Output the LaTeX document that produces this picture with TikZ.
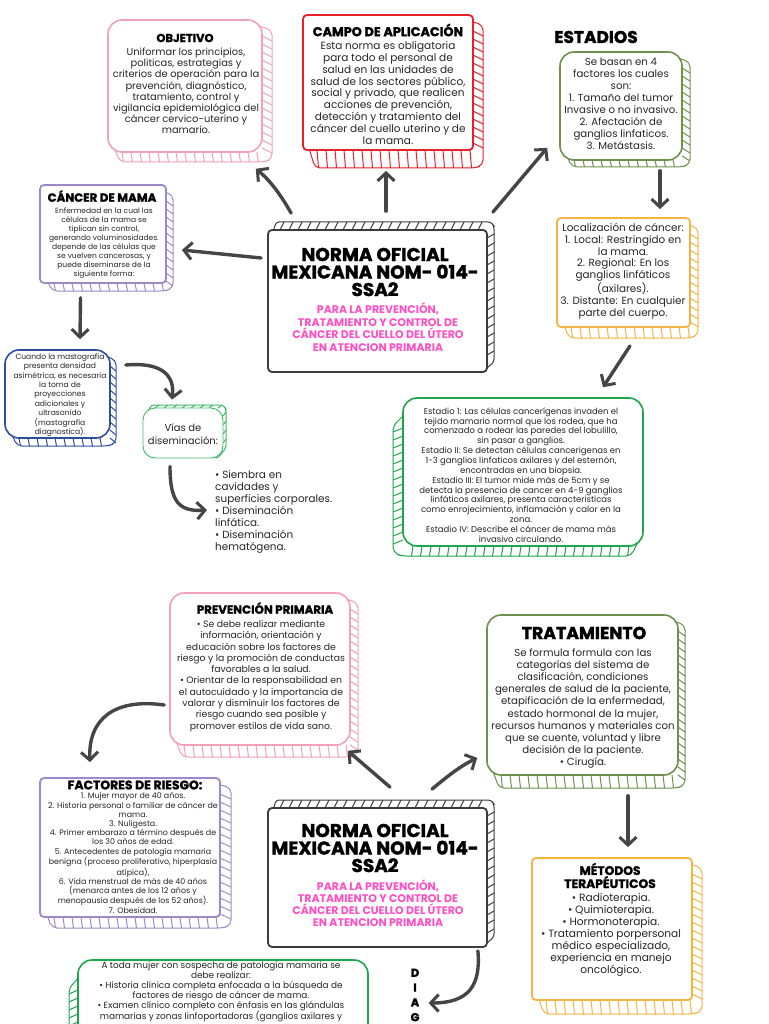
\documentclass[tikz,border=0pt]{standalone}
\usepackage{fontspec}
\setmainfont{Poppins}
\newfontfamily\heavy{Poppins}[BoldFeatures={FakeBold=1.6}]
\usetikzlibrary{arrows.meta,calc}
\definecolor{cpink}{HTML}{F3A1B8}
\definecolor{cred}{HTML}{E82129}
\definecolor{colive}{HTML}{6F8F4C}
\definecolor{cpurple}{HTML}{9D89C9}
\definecolor{corange}{HTML}{F5B443}
\definecolor{cgreen}{HTML}{1FA54B}
\definecolor{cblue}{HTML}{2D4E9E}
\definecolor{cvgreen}{HTML}{40BA66}
\definecolor{hotpink}{HTML}{FF4EC2}
\definecolor{cdark}{HTML}{3C3C3C}
\definecolor{carrow}{HTML}{454545}
\tikzset{
  sbox/.style={fill=white, line width=1.6pt, rounded corners=14pt, inner sep=0pt},
  nbox/.style={fill=white, line width=1.8pt, rounded corners=4pt, inner sep=0pt},
  vbox/.style={fill=white, line width=0.9pt, rounded corners=12pt, inner sep=0pt},
  txt/.style={align=center, inner sep=0pt, text=black!85},
  ttlst/.style={align=center, inner sep=0pt, font=\heavy\bfseries},
  arr/.style={draw=carrow, line width=3.4pt, line cap=round,
    -{Straight Barb[length=8pt,width=17pt,line width=3pt]}},
}
% box with extrusion bottom-right: [style] name,color,x1,y1,x2,y2,dr,db
\newcommand{\boxBR}[9][sbox]{%
  \begin{scope}[draw=#3, line width=1pt]
   \filldraw[fill=white, rounded corners=5pt] (#6-16,#5+2) -- (#6+#8,#5+10) -- (#6+#8,#7+#9-3) -- (#6+#8-8,#7+#9) -- (#4+12,#7+#9) -- (#4+3,#7-12) -- cycle;
   \pgfmathsetmacro\xa{#4+14}\pgfmathsetmacro\xb{#4+23}\pgfmathsetmacro\xe{#6-2}
   \foreach \u in {\xa,\xb,...,\xe} \draw (\u,#7) -- (\u+1.5,#7+#9);
   \pgfmathsetmacro\ya{#5+16}\pgfmathsetmacro\yb{#5+24}\pgfmathsetmacro\ye{#7}
   \foreach \v in {\ya,\yb,...,\ye} \draw (#6,\v) -- (#6+#8,\v+5);
  \end{scope}
  \node[#1, draw=#3, minimum width={(#6-#4)*1pt}, minimum height={(#7-#5)*1pt}] (#2) at ({(#4+#6)/2},{(#5+#7)/2}) {};
}
% extrusion top-right
\newcommand{\boxTR}[9][nbox]{%
  \begin{scope}[draw=#3, line width=1pt]
   \filldraw[fill=white, rounded corners=3pt] (#4+4,#5+6) -- (#4+8,#5-#9) -- (#6+#8-3,#5-#9) -- (#6+#8,#5-#9+4) -- (#6+#8,#7-10) -- (#6-6,#7+1) -- cycle;
   \pgfmathsetmacro\xa{#4+12}\pgfmathsetmacro\xb{#4+21}\pgfmathsetmacro\xe{#6-2}
   \foreach \u in {\xa,\xb,...,\xe} \draw (\u,#5) -- (\u+4,#5-#9);
   \pgfmathsetmacro\ya{#5+8}\pgfmathsetmacro\yb{#5+17}\pgfmathsetmacro\ye{#7-12}
   \foreach \v in {\ya,\yb,...,\ye} \draw (#6,\v) -- (#6+#8,\v-4);
  \end{scope}
  \node[#1, draw=#3, minimum width={(#6-#4)*1pt}, minimum height={(#7-#5)*1pt}] (#2) at ({(#4+#6)/2},{(#5+#7)/2}) {};
}
% extrusion left-bottom
\newcommand{\boxLB}[9][sbox]{%
  \begin{scope}[draw=#3, line width=1pt]
   \filldraw[fill=white, rounded corners=5pt] (#4+14,#5+4) -- (#4-#8,#5+28) -- (#4-#8,#7+#9-4) -- (#4-#8+8,#7+#9) -- (#6-12,#7+#9) -- (#6-2,#7-10) -- cycle;
   \pgfmathsetmacro\xa{#4+10}\pgfmathsetmacro\xb{#4+19}\pgfmathsetmacro\xe{#6-12}
   \foreach \u in {\xa,\xb,...,\xe} \draw (\u,#7) -- (\u-1.5,#7+#9);
   \pgfmathsetmacro\ya{#5+30}\pgfmathsetmacro\yb{#5+38}\pgfmathsetmacro\ye{#7}
   \foreach \v in {\ya,\yb,...,\ye} \draw (#4,\v) -- (#4-#8,\v+4);
  \end{scope}
  \node[#1, draw=#3, minimum width={(#6-#4)*1pt}, minimum height={(#7-#5)*1pt}] (#2) at ({(#4+#6)/2},{(#5+#7)/2}) {};
}
\newcommand{\fs}[2]{\fontsize{#1}{#2}\selectfont}
\begin{document}
\begin{tikzpicture}[x=1pt,y=-1pt]
\useasboundingbox (0,0) rectangle (768,1024);
\clip (0,0) rectangle (768,1024);
\fill[white] (0,0) rectangle (768,1024);

% ---------- boxes ----------
\boxBR{obj}{cpink}{108}{20}{262}{152}{10}{10}
\boxBR[nbox]{campo}{cred}{303}{15}{473}{150}{10}{18}
\boxBR{est}{colive}{560}{52}{682}{160}{8}{7}
\boxBR[nbox]{cm}{cpurple}{40}{185}{166}{283}{7}{8}
\boxTR{nom}{cdark}{268}{230}{487}{372}{7}{8}
\boxBR[nbox]{loc}{corange}{557}{218}{690}{327}{8}{11}
\boxLB{estd}{cgreen}{403}{398}{643}{546}{10}{10}
\boxBR{mas}{cblue}{5}{350}{110}{438}{6}{8}
\boxTR[vbox]{vias}{cvgreen}{143}{408}{223}{458}{3}{3}
\boxBR{prev}{cpink}{170}{593}{350}{745}{8}{12}
\boxBR[nbox]{fac}{cpurple}{40}{778}{220}{917}{11}{11}
\boxBR{trat}{colive}{487}{615}{678}{775}{7}{13}
\boxBR[nbox]{met}{corange}{532}{858}{692}{1000}{10}{14}
\boxTR{nomb}{cdark}{268}{808}{487}{947}{7}{8}
\boxLB{diag}{cgreen}{78}{960}{368}{1080}{9}{10}

% ---------- texts ----------
\node[ttlst, font=\heavy\bfseries\fs{11.5}{13}] (objt) at (185,38) {OBJETIVO};
\node[txt, font=\fs{9.9}{11.2}] (objx) at (186,91) {Uniformar los principios,\\ politicas, estrategias y\\ criterios de operación para la\\ prevención, diagnóstico,\\ tratamiento, control y\\ vigilancia epidemiológica del\\ cáncer cervico-uterino y\\ mamario.};

\node[ttlst, font=\heavy\bfseries\fs{12.8}{14}] (campot) at (388,30) {CAMPO DE APLICACIÓN};
\node[txt, font=\fs{10.5}{11.9}] (campox) at (388,93) {Esta norma es obligatoria\\ para todo el personal de\\ salud en las unidades de\\ salud de los sectores público,\\ social y privado, que realicen\\ acciones de prevención,\\ detección y tratamiento del\\ cáncer del cuello uterino y de\\ la mama.};

\node[ttlst, font=\heavy\bfseries\fs{17}{18}] (estt) at (596,37) {ESTADIOS};
\node[txt, font=\fs{10.2}{12}] (estx) at (621,104) {Se basan en 4\\ factores los cuales\\ son:\\ 1. Tamaño del tumor\\ Invasive o no invasivo.\\ 2. Afectación de\\ ganglios linfaticos.\\ 3. Metástasis.};

\node[ttlst, font=\heavy\bfseries\fs{11.8}{12}] (cmt) at (102,196) {CÁNCER DE MAMA};
\node[txt, font=\fs{7.5}{9}] (cmx) at (104,243) {Enfermedad en la cual las\\ células de la mama se\\ tiplican sin control,\\ generando voluminosidades.\\ depende de las células que\\ se vuelven cancerosas, y\\ puede diseminarse de la\\ siguiente forma:};

\node[ttlst, font=\heavy\bfseries\fs{18.5}{17.5}] (nomt) at (375,272) {NORMA OFICIAL\\ MEXICANA NOM- 014-\\ SSA2};
\node[ttlst, text=hotpink, font=\bfseries\fs{11}{12.6}] (nomp) at (378,327) {PARA LA PREVENCIÓN,\\ TRATAMIENTO Y CONTROL DE\\ CÁNCER DEL CUELLO DEL ÚTERO\\ EN ATENCION PRIMARIA};

\node[txt, font=\fs{10.4}{11.9}] (locx) at (623,271) {Localización de cáncer:\\ 1. Local: Restringido en\\ la mama.\\ 2. Regional: En los\\ ganglios linfáticos\\ (axilares).\\ 3. Distante: En cualquier\\ parte del cuerpo.};

\node[txt, font=\fs{8.5}{9.85}] (estdx) at (521,475) {Estadio 1: Las células cancerígenas invaden el\\ tejido mamario normal que los rodea, que ha\\ comenzado a rodear las paredes del lobulillo,\\ sin pasar a ganglios.\\ Estadio II: Se detectan células cancerigenas en\\ 1-3 ganglios linfaticos axilares y del esternón,\\ encontradas en una biopsia.\\ Estadio III: El tumor mide más de 5cm y se\\ detecta la presencia de cancer en 4-9 ganglios\\ linfáticos axilares, presenta caracteristicas\\ como enrojecimiento, inflamación y calor en la\\ zona.\\ Estadio IV: Describe el cáncer de mama más\\ invasivo circulando.};

\node[txt, font=\fs{7.6}{9.4}] (masx) at (60,395) {Cuando la mastografía\\ presenta densidad\\ asimétrica, es necesaria\\ la toma de\\ proyecciones\\ adicionales y\\ ultrasonido\\ (mastografía\\ diagnostica).};

\node[txt, font=\fs{10}{13}] (viasx) at (183,434) {Vías de\\ diseminación:};
\node[txt, align=left, anchor=west, font=\fs{10.4}{12}] (bul) at (215,512) {• Siembra en\\ cavidades y\\ superficies corporales.\\ • Diseminación\\ linfática.\\ • Diseminación\\ hematógena.};

\node[ttlst, font=\heavy\bfseries\fs{11.8}{13}] (prevt) at (265,608) {PREVENCIÓN PRIMARIA};
\node[txt, font=\fs{9.3}{11.3}] (prevx) at (261,676) {• Se debe realizar mediante\\ información, orientación y\\ educación sobre los factores de\\ riesgo y la promoción de conductas\\ favorables a la salud.\\ • Orientar de la responsabilidad en\\ el autocuidado y la importancia de\\ valorar y disminuir los factores de\\ riesgo cuando sea posible y\\ promover estilos de vida sano.};

\node[ttlst, font=\heavy\bfseries\fs{12.4}{13}] (fact) at (135,785) {FACTORES DE RIESGO:};
\node[txt, font=\fs{7.9}{9.2}] (facx) at (133,853) {1. Mujer mayor de 40 años.\\ 2. Historia personal o familiar de cáncer de\\ mama.\\ 3. Nuligesta.\\ 4. Primer embarazo a término después de\\ los 30 años de edad.\\ 5. Antecedentes de patología mamaria\\ benigna (proceso proliferativo, hiperplasia\\ atípica),\\ 6. Vida menstrual de más de 40 años\\ (menarca antes de los 12 años y\\ menopausia después de los 52 años).\\ 7. Obesidad.};

\node[ttlst, font=\heavy\bfseries\fs{17.3}{18}] (tratt) at (584,633) {TRATAMIENTO};
\node[txt, font=\fs{10.2}{12.1}] (tratx) at (583,708.5) {Se formula formula con las\\ categorías del sistema de\\ clasificación, condiciones\\ generales de salud de la paciente,\\ etapificación de la enfermedad,\\ estado hormonal de la mujer,\\ recursos humanos y materiales con\\ que se cuente, voluntad y libre\\ decisión de la paciente.\\ • Cirugía.};

\node[ttlst, font=\heavy\bfseries\fs{12.3}{10}] (mett) at (610,875.5) {MÉTODOS\\ TERAPÉUTICOS};
\node[txt, font=\fs{10.6}{12.1}] (metx) at (611,935) {• Radioterapia.\\ • Quimioterapia.\\ • Hormonoterapia.\\ • Tratamiento porpersonal\\ médico especializado,\\ experiencia en manejo\\ oncológico.};

\node[ttlst, font=\heavy\bfseries\fs{18.5}{17.5}] (nombt) at (375,848) {NORMA OFICIAL\\ MEXICANA NOM- 014-\\ SSA2};
\node[ttlst, text=hotpink, font=\bfseries\fs{11}{12.2}] (nombp) at (378,903) {PARA LA PREVENCIÓN,\\ TRATAMIENTO Y CONTROL DE\\ CÁNCER DEL CUELLO DEL ÚTERO\\ EN ATENCION PRIMARIA};

\node[txt, font=\fs{8.9}{9.8}] (diagx) at (221,992) {A toda mujer con sospecha de patología mamaria se\\ debe realizar:\\ • Historia clínica completa enfocada a la búsqueda de\\ factores de riesgo de cáncer de mama.\\ • Examen clínico completo con énfasis en las glándulas\\ mamarias y zonas linfoportadoras (ganglios axilares y};

\node[ttlst, font=\heavy\bfseries\fs{11.5}{14.8}] (diagv) at (415,995) {D\\I\\A\\G};

% ---------- arrows ----------
\draw[arr] ([shift={(24,-16)}]nom.north west) .. controls +(-9,-16) and +(15,12) .. ([shift={(-7,16)}]obj.south east);
\draw[arr] ([shift={(8.5,-18)}]nom.north) -- ([shift={(-2,20)}]campo.south);
\draw[arr] ([shift={(5,-17)}]nom.north east) -- ([shift={(-12,-13)}]est.south west);
\draw[arr] ([shift={(39,10)}]est.south) -- ([shift={(36.5,-8)}]loc.north);
\draw[arr] ([shift={(6.5,18)}]loc.south) -- ([shift={(80,-10)}]estd.north);
\draw[arr] ([shift={(-6,-43)}]nom.west) -- ([shift={(15,16)}]cm.east);
\draw[arr] ([shift={(-22.5,14)}]cm.south) -- ([shift={(22.5,-10)}]mas.north);
\draw[arr] ([shift={(15,-29)}]mas.east) .. controls +(35,-3) and +(3,-25) .. ([shift={(-11,-8)}]vias.north);
\draw[arr] ([shift={(-13,8)}]vias.south) .. controls +(0,34) and +(-29,2) .. ([shift={(-8,-2)}]bul.west);
\draw[arr] ([shift={(-5,36)}]prev.west) .. controls +(-50,-7) and +(-2,-43) .. ([shift={(-40,-15)}]fac.north);
\draw[arr] ([shift={(12.5,-20)}]nomb.north) -- ([shift={(-3,5)}]prev.south east);
\draw[arr] ([shift={(54.5,-18)}]nomb.north) .. controls +(18,-15) and +(-16,8) .. ([shift={(-9,-18)}]trat.south west);
\draw[arr] ([shift={(45.5,20)}]trat.south) -- ([shift={(16,-10)}]met.north);
\draw[arr] ([shift={(-10,3)}]nomb.south east) .. controls +(3,35) and +(40,0) .. ([shift={(9,8)}]diagv.east);
\end{tikzpicture}
\end{document}
